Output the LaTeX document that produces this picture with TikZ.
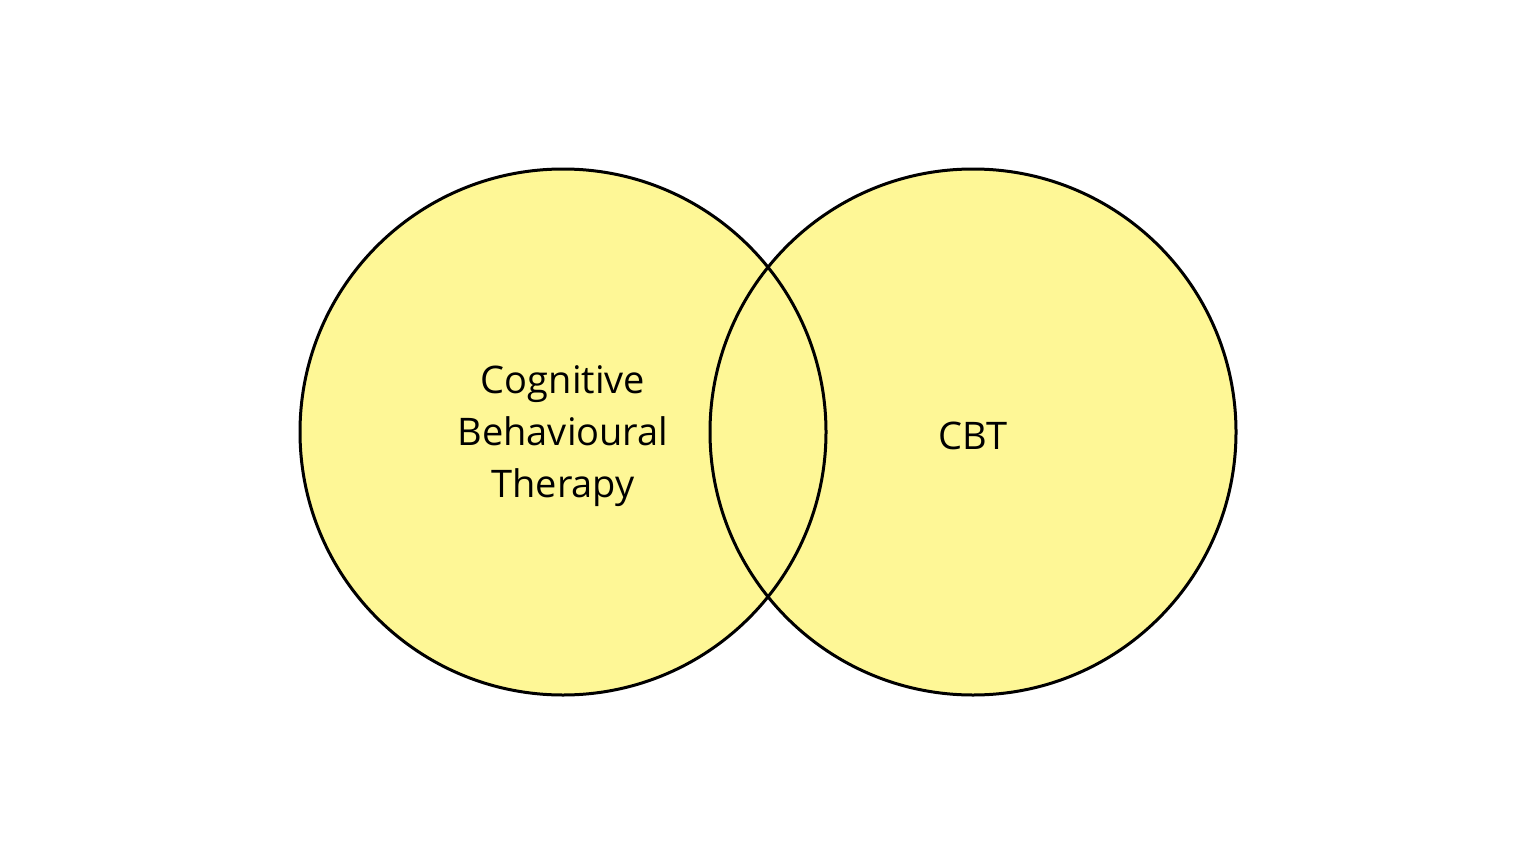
\documentclass[tikz,border=0pt]{standalone}
\usepackage{fontspec}
\setmainfont{Open Sans}
\begin{document}
\begin{tikzpicture}[x=1pt,y=-1pt,
  circ/.style={circle,minimum size=526pt,inner sep=0pt},
  lbl/.style={align=center,font=\fontsize{38}{52}\selectfont}]
\useasboundingbox[fill=white] (0,0) rectangle (1536,864);
\definecolor{venn}{HTML}{FEF796}
\node[circ,fill=venn] (L) at (563,432) {};
\node[circ,fill=venn] (R) at (973,432) {};
\node[circ,draw=black,line width=3pt] (Lo) at (563,432) {};
\node[circ,draw=black,line width=3pt] (Ro) at (973,432) {};
\node[lbl] (tl) at (563,436) {Cognitive\\Behavioural\\Therapy};
\node[lbl] (tr) at (973,436) {CBT};
\end{tikzpicture}
\end{document}
